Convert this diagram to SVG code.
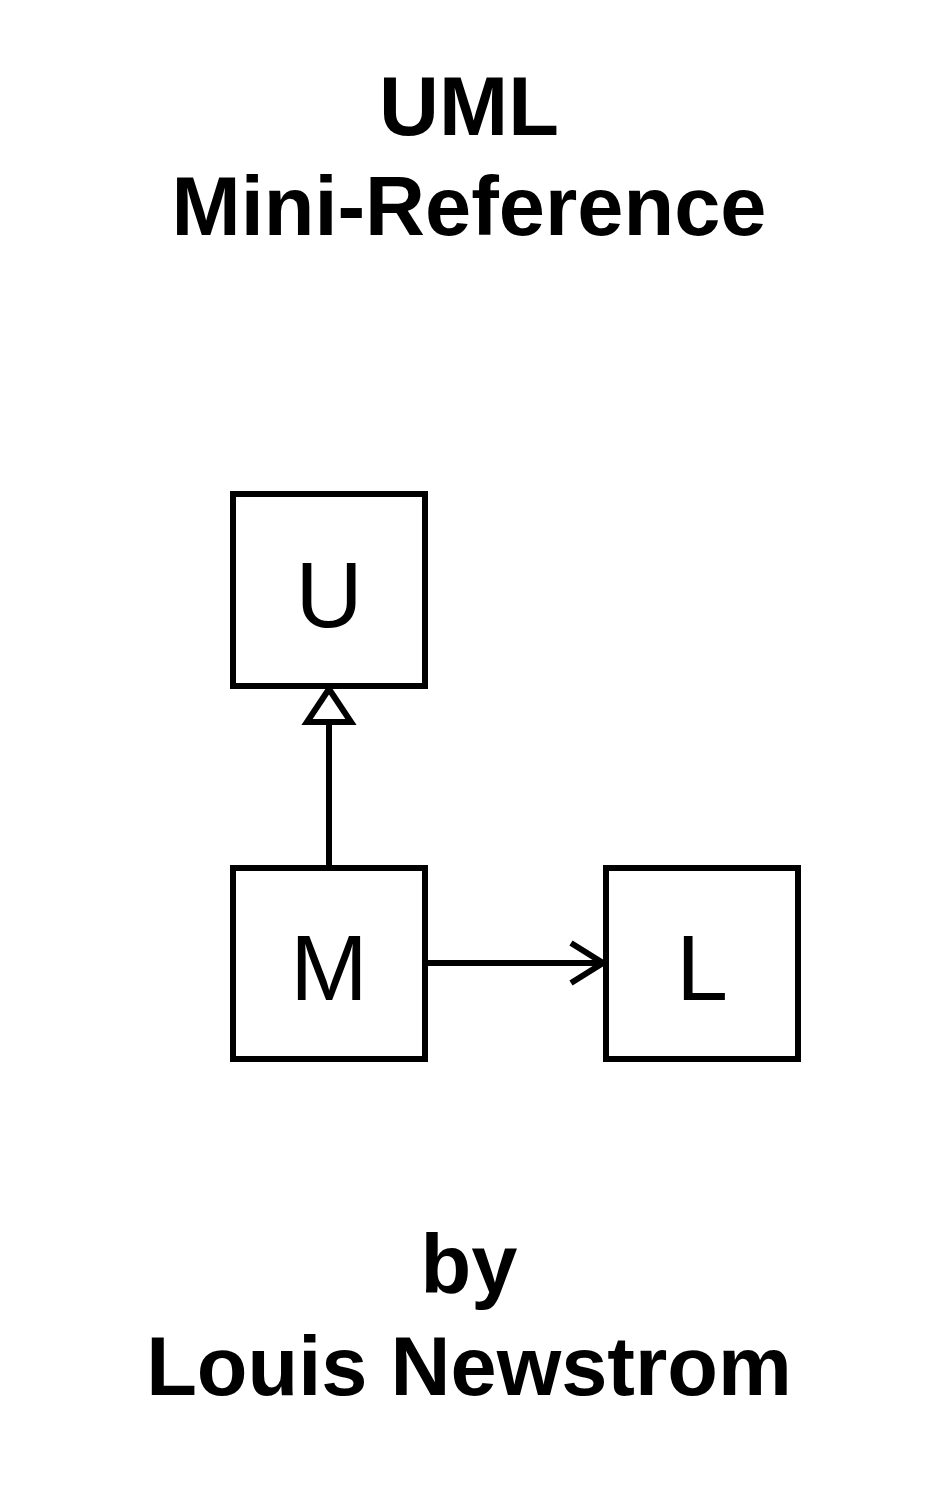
<svg xmlns="http://www.w3.org/2000/svg" width="938" height="1500" viewBox="0 0 938 1500">
<style>
.t{font-family:"Liberation Sans",Arial,sans-serif;font-weight:bold;font-size:83px;text-anchor:middle;fill:#000}
.b{fill:#fff;stroke:#000;stroke-width:6}
.l{font-family:"Liberation Sans",Arial,sans-serif;font-size:93px;text-anchor:middle;fill:#000}
.c{stroke:#000;stroke-width:6;fill:none}
</style>
<rect width="938" height="1500" fill="#fff"/>
<text class="t" x="469" y="135">UML</text>
<text class="t" x="469" y="235">Mini-Reference</text>
<g id="U"><rect class="b" x="233" y="494" width="192" height="192"/><text class="l" x="329" y="627">U</text></g>
<g id="M"><rect class="b" x="233" y="868" width="192" height="191"/><text class="l" x="329" y="1000">M</text></g>
<g id="L"><rect class="b" x="606" y="868" width="192" height="191"/><text class="l" x="702" y="1000">L</text></g>
<g id="connectors">
<line class="c" x1="329" y1="868" x2="329" y2="722"/>
<polygon class="c" points="329,689 307,722 351,722" fill="#fff"/>
<line class="c" x1="425" y1="963" x2="603" y2="963"/>
<polyline class="c" points="571,943 603,963 571,983"/>
</g>
<text class="t" x="469" y="1293">by</text>
<text class="t" x="469" y="1395">Louis Newstrom</text>
</svg>
